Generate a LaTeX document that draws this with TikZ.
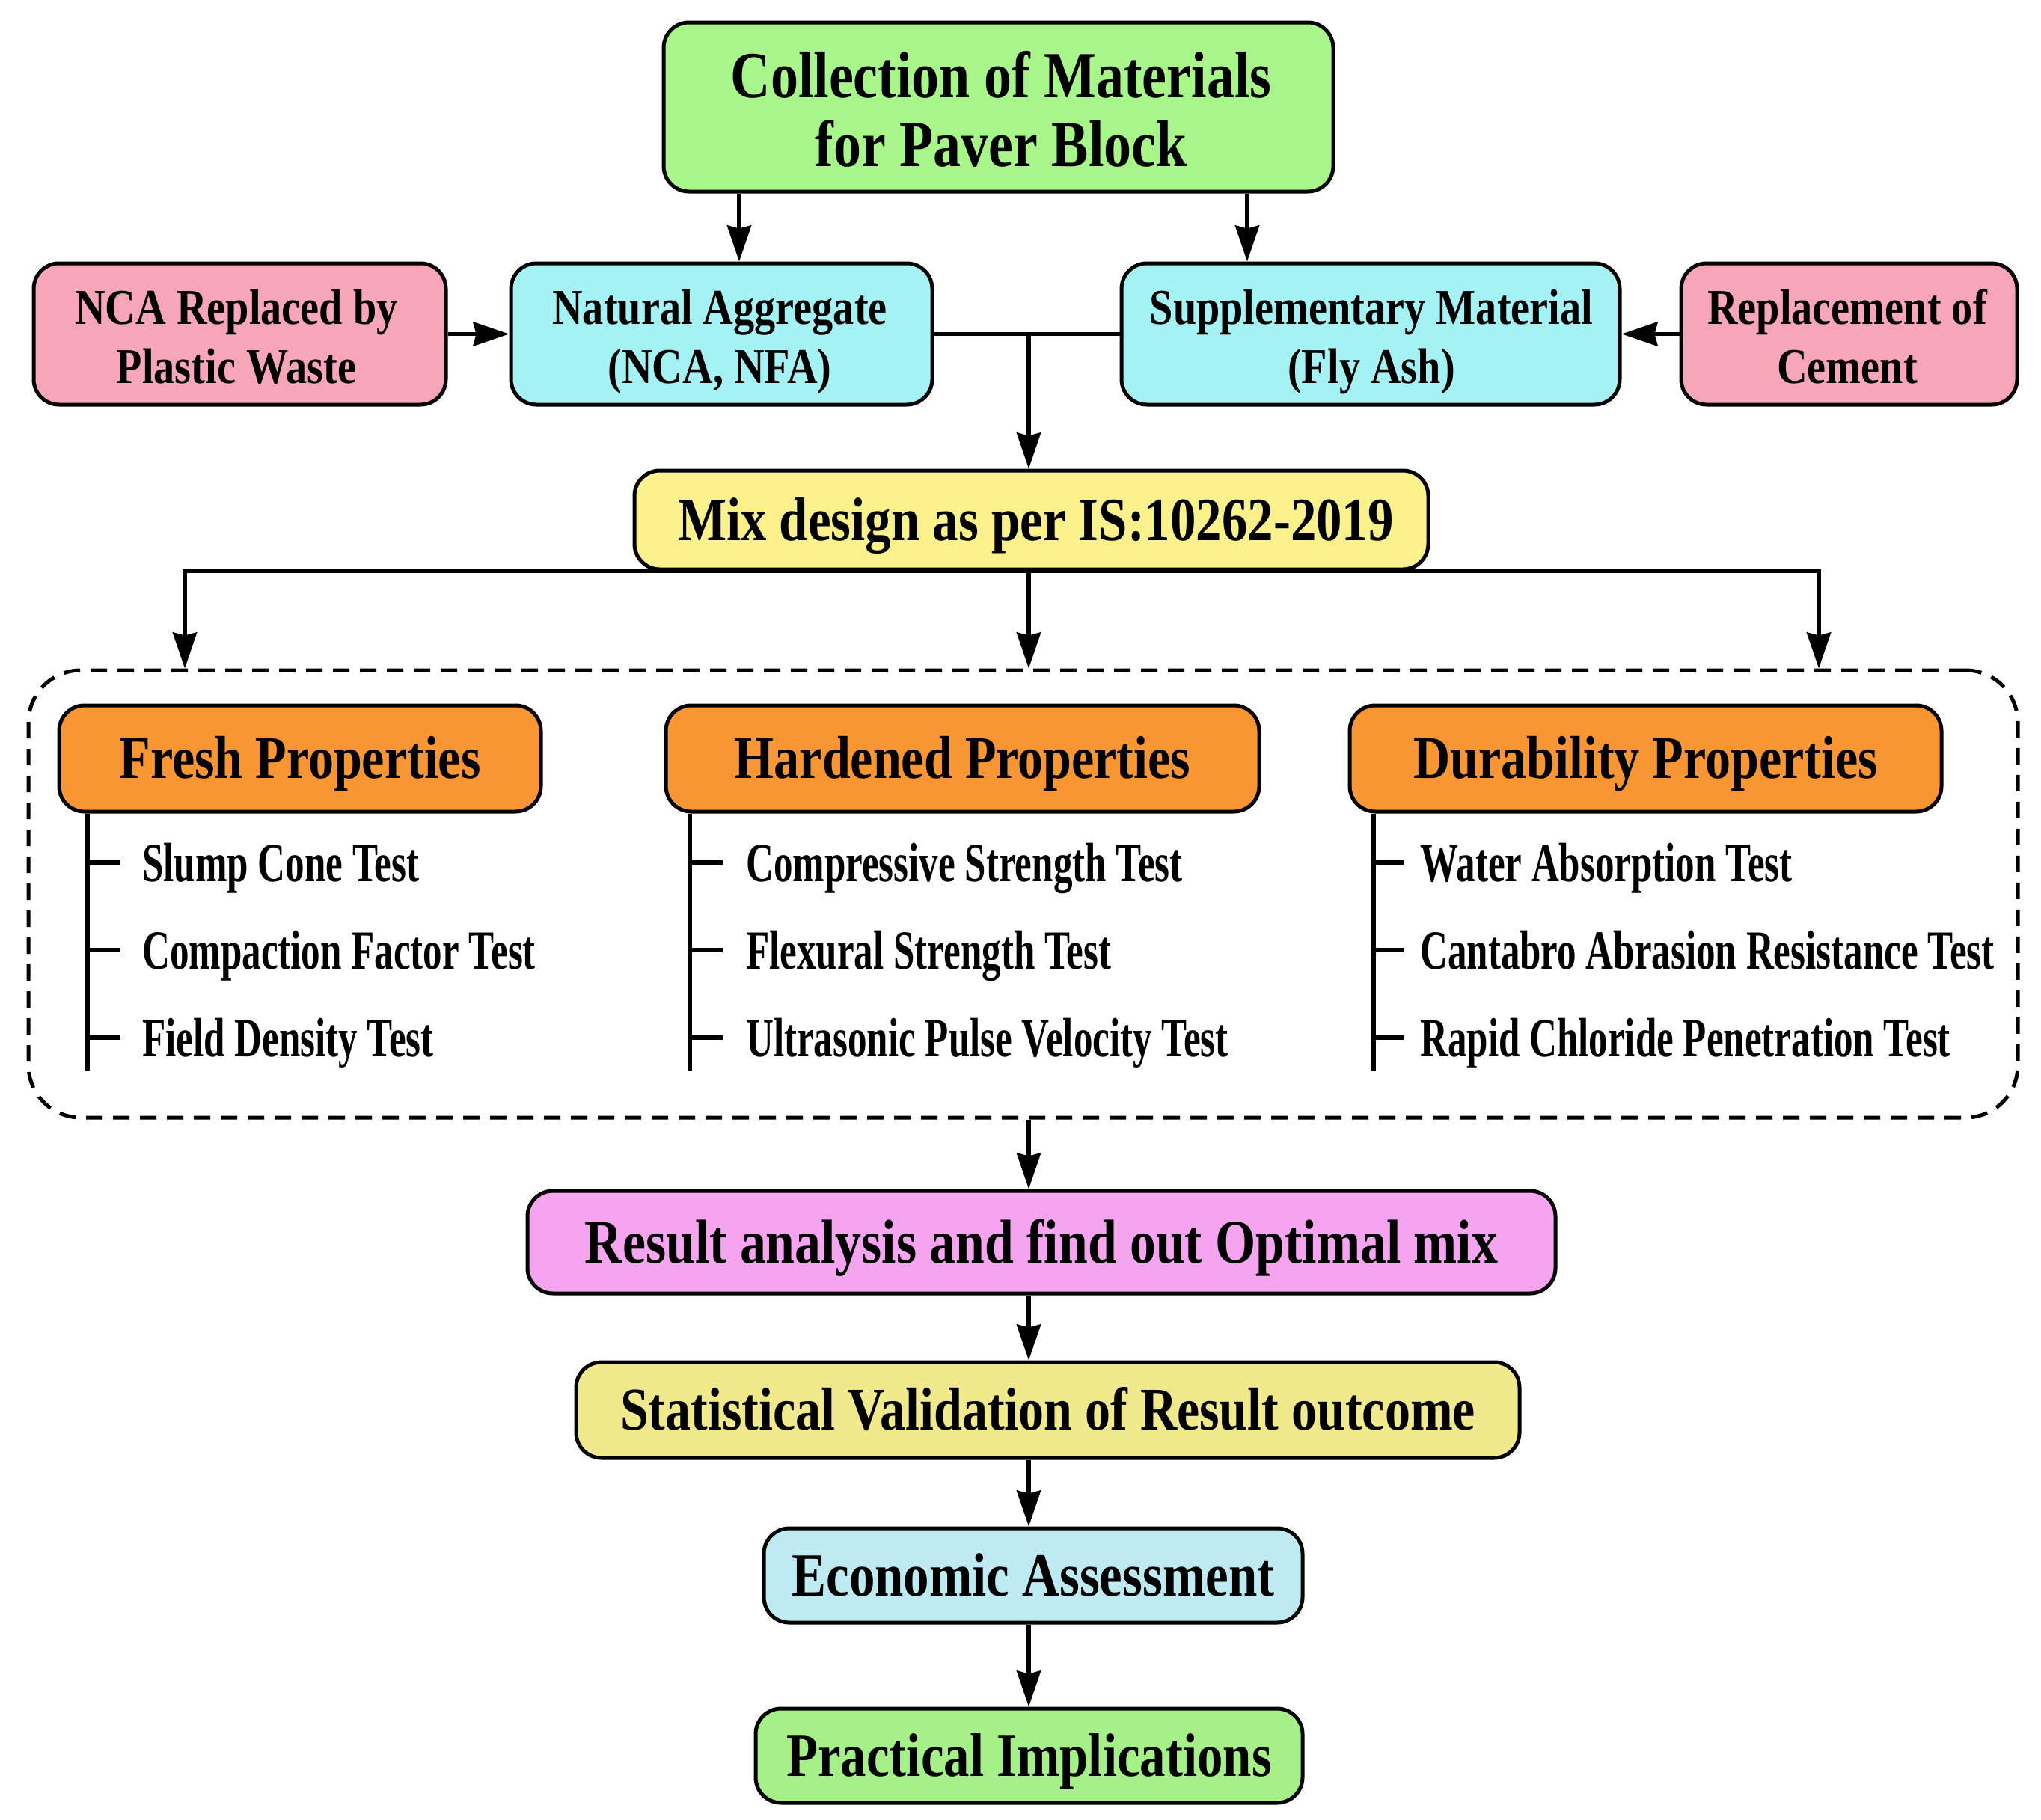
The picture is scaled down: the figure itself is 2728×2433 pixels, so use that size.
\documentclass[tikz,border=0pt]{standalone}
\usepackage{fontspec}
\setmainfont{Liberation Serif}[FakeStretch=0.84]
\newfontfamily\itemfont{Liberation Serif}[FakeStretch=0.69]
\usetikzlibrary{arrows.meta}
\definecolor{cgreen}{HTML}{A8F58A}
\definecolor{cgreenb}{HTML}{A6F08A}
\definecolor{cpink}{HTML}{F7A6BA}
\definecolor{ccyan}{HTML}{A5F2F5}
\definecolor{cyellow}{HTML}{FAF08C}
\definecolor{corange}{HTML}{F79632}
\definecolor{cmagenta}{HTML}{F5A5F0}
\definecolor{cstat}{HTML}{F0EA8C}
\definecolor{cecon}{HTML}{BEEBF2}
\begin{document}
\begin{tikzpicture}[x=1pt,y=-1pt,
  box/.style={draw=black, line width=5pt, rounded corners=34pt, inner sep=0pt, font=\bfseries},
  ln/.style={line width=5.5pt},
  arr/.style={line width=5.5pt, -{Stealth[length=48pt,width=32pt,inset=4pt]}},
  tree/.style={line width=5.5pt},
  item/.style={anchor=base west, inner sep=0pt, font=\itemfont\bfseries\fontsize{74}{80}\selectfont},
  tx/.style={anchor=base, inner sep=0pt, font=\bfseries\fontsize{67}{72}\selectfont},
  big/.style={font=\bfseries\fontsize{82}{90}\selectfont, text height=54pt, text depth=0pt},
  head/.style={box, fill=corange, font=\bfseries\fontsize{81}{90}\selectfont, text height=53.6pt, text depth=0pt, minimum height=142pt},
]
\fill[white] (0,0) rectangle (2728,2433);
\useasboundingbox (0,0) rectangle (2728,2433);

% top
\node[box, fill=cgreen, minimum width=895pt, minimum height=226pt] (coll) at (1334.5,143) {};
\node[tx, font=\bfseries\fontsize{88}{92}\selectfont] (collA) at (1338,130) {Collection of Materials};
\node[tx, font=\bfseries\fontsize{88}{92}\selectfont] (collB) at (1338,222) {for Paver Block};

\node[box, fill=cpink, minimum width=551pt, minimum height=189pt] (nca) at (320.5,446.5) {};
\node[tx] (ncaA) at (316,433) {NCA Replaced by};
\node[tx] (ncaB) at (316,512) {Plastic Waste};

\node[box, fill=ccyan, minimum width=563pt, minimum height=189pt] (nat) at (964.5,446.5) {};
\node[tx] (natA) at (962,433) {Natural Aggregate};
\node[tx] (natB) at (962,512) {(NCA, NFA)};

\node[box, fill=ccyan, minimum width=666pt, minimum height=189pt] (sup) at (1832,446.5) {};
\node[tx] (supA) at (1833,433) {Supplementary Material};
\node[tx] (supB) at (1833,512) {(Fly Ash)};

\node[box, fill=cpink, minimum width=449pt, minimum height=189pt] (rep) at (2471.5,446.5) {};
\node[tx] (repA) at (2469,433) {Replacement of};
\node[tx] (repB) at (2469,512) {Cement};

\node[box, big, fill=cyellow, minimum width=1061pt, minimum height=132pt] (mix) at (1378.5,695) {\hspace*{12pt}Mix design as per IS:10262-2019};

% properties
\node[draw=black, line width=5pt, dash pattern=on 22pt off 14pt, rounded corners=70pt, inner sep=0pt,
      minimum width=2659pt, minimum height=598pt] (props) at (1367.5,1195) {};

\node[head, minimum width=644pt] (fresh) at (401,1014) {Fresh Properties};
\node[head, minimum width=793pt] (hard) at (1286.5,1014) {Hardened Properties};
\node[head, minimum width=791pt] (dur) at (2199.5,1014) {Durability Properties};

\node[item] (f1) at (190,1178) {Slump Cone Test};
\node[item] (f2) at (190,1295) {Compaction Factor Test};
\node[item] (f3) at (190,1412) {Field Density Test};
\node[item] (h1) at (997,1178) {Compressive Strength Test};
\node[item] (h2) at (997,1295) {Flexural Strength Test};
\node[item] (h3) at (997,1412) {Ultrasonic Pulse Velocity Test};
\node[item] (d1) at (1898,1178) {Water Absorption Test};
\node[item] (d2) at (1898,1295) {Cantabro Abrasion Resistance Test};
\node[item] (d3) at (1898,1412) {Rapid Chloride Penetration Test};

\coordinate (fv) at (117,1432);
\coordinate (hv) at (922,1432);
\coordinate (dv) at (1836,1432);
\draw[tree] (fresh.south -| fv) -- (fv);
\draw[tree] (hard.south -| hv) -- (hv);
\draw[tree] (dur.south -| dv) -- (dv);
\foreach \yy in {1153,1270,1387}{
  \draw[tree] (117,\yy) -- (161,\yy);
  \draw[tree] (922,\yy) -- (966,\yy);
  \draw[tree] (1836,\yy) -- (1876,\yy);
}

% bottom
\node[box, big, fill=cmagenta, minimum width=1374pt, minimum height=137pt,
      font=\bfseries\fontsize{83}{90}\selectfont, text height=55pt] (res) at (1392,1660.5) {Result analysis and find out Optimal mix};
\node[box, big, fill=cstat, minimum width=1261pt, minimum height=128pt,
      font=\bfseries\fontsize{81}{90}\selectfont, text height=53.6pt] (stat) at (1400.5,1885) {Statistical Validation of Result outcome};
\node[box, big, fill=cecon, minimum width=720pt, minimum height=126pt] (econ) at (1381,2106) {Economic Assessment};
\node[box, big, fill=cgreenb, minimum width=731pt, minimum height=126pt] (prac) at (1375.5,2347) {Practical Implications};

% connectors
\coordinate (c1) at (988,0);
\coordinate (c2) at (1667,0);
\coordinate (mx) at (1375,0);
\coordinate (bl) at (247,0);
\coordinate (br) at (2431,0);
\draw[arr] (coll.south -| c1) -- (nat.north -| c1);
\draw[arr] (coll.south -| c2) -- (sup.north -| c2);
\draw[arr] (nca) -- (nat);
\draw[arr] (rep) -- (sup);
\draw[ln] (nat) -- (sup);
\draw[arr] (nat.east -| mx) -- (mix.north -| mx);
\draw[arr] (mix.south -| mx) -| (props.north -| bl);
\draw[arr] (mix.south -| mx) -| (props.north -| br);
\draw[arr] (mix.south -| mx) -- (props.north -| mx);
\draw[arr] (props.south -| mx) -- (res.north -| mx);
\draw[arr] (res.south -| mx) -- (stat.north -| mx);
\draw[arr] (stat.south -| mx) -- (econ.north -| mx);
\draw[arr] (econ.south -| mx) -- (prac.north -| mx);
\end{tikzpicture}
\end{document}
